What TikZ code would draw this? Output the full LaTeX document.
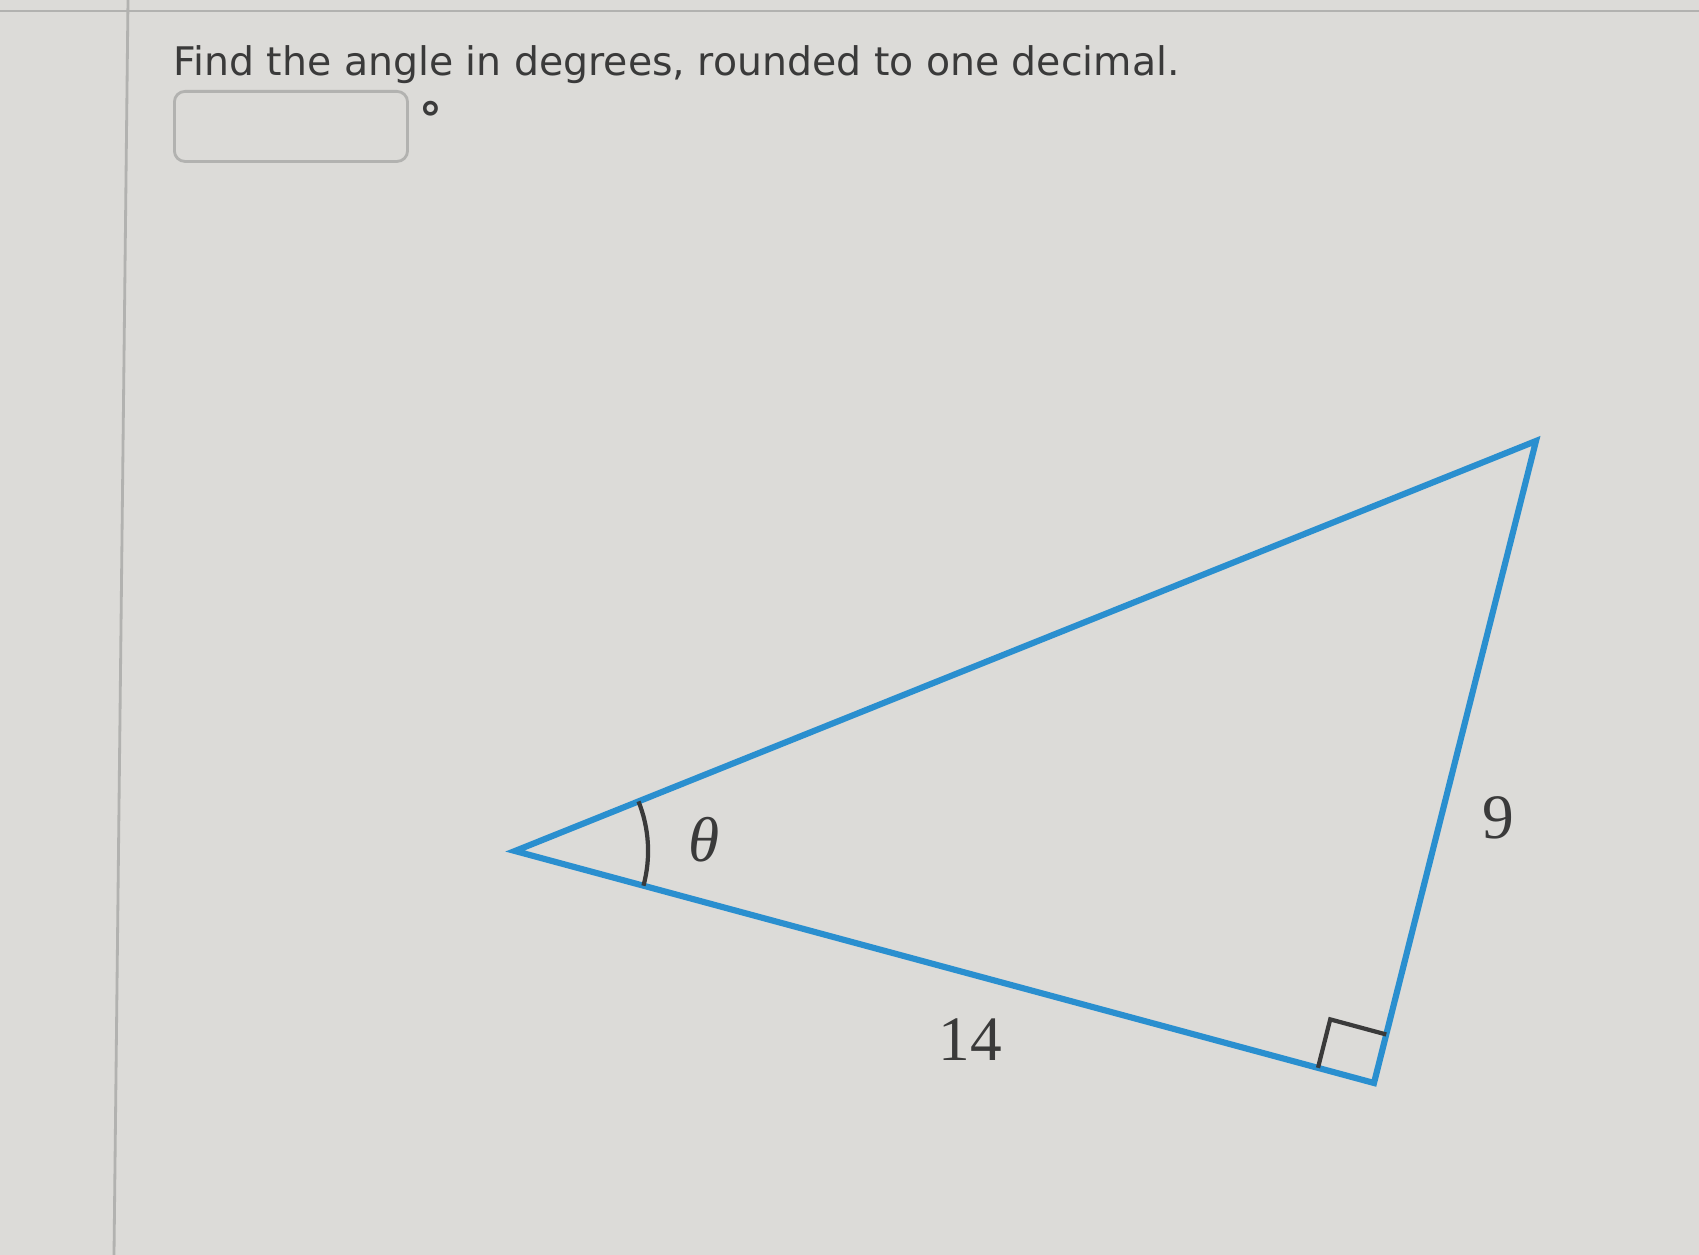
\documentclass[tikz,border=0pt]{standalone}
\usepackage{fontspec}
\setmainfont{Liberation Serif}
\newfontfamily\qfont{DejaVu Sans}
\usetikzlibrary{calc}
\usetikzlibrary{angles}
\definecolor{paper}{HTML}{DCDBD8}
\definecolor{rulegrey}{HTML}{B2B2B0}
\definecolor{ink}{HTML}{3A3A3A}
\definecolor{sideblue}{HTML}{2A8FCF}

\begin{document}
\begin{tikzpicture}[x=0.01cm,y=-0.01cm,
    side/.style={draw=sideblue, line width=1.75pt, line join=miter},
    tick/.style={draw=ink, line width=1.2pt},
    lbl/.style={text=ink, font=\fontsize{18}{20}\selectfont, inner sep=0pt}]
    \fill[paper] (0,0) rectangle (1699,1255);
    \useasboundingbox (0,0) rectangle (1699,1255);

    % page rules of the screen
    \coordinate (topl) at (0,11);
    \coordinate (topr) at (1699,11);
    \coordinate (divt) at (128,0);
    \coordinate (divb) at (114,1255);
    \draw[rulegrey, line width=0.6pt] (topl) -- (topr);
    \draw[rulegrey, line width=0.8pt] (divt) -- (divb);

    % question and answer box
    \node[anchor=base west, text=ink, inner sep=0pt,
      font=\qfont\fontsize{11.2}{13}\selectfont] (question) at (173,76)
      {Find the angle in degrees, rounded to one decimal.};
    \node[draw=rulegrey, line width=0.8pt, rounded corners=3pt, anchor=north west,
      minimum width=2.33cm, minimum height=0.7cm] (answer) at (173,90) {};
    \node[text=ink, inner sep=0pt, font=\qfont\bfseries\fontsize{13}{15}\selectfont]
      (deg) at (431,118) {°};

    % triangle
    \coordinate (A) at (515,851);
    \coordinate (B) at (1536,441);
    \coordinate (C) at (1374,1083);
    \draw[side] (A) -- (B) -- (C) -- cycle;
    \pic[tick, angle radius=1.33cm] {angle = C--A--B};
    \coordinate (ca) at ($(C)!0.58cm!(A)$);
    \coordinate (cb) at ($(C)!0.5cm!(B)$);
    \coordinate (sq) at ($(ca)+(cb)-(C)$);
    \draw[tick] (ca) -- (sq) -- (cb);

    \node[lbl] (theta) at (704,840) {\itshape θ};
    \node[lbl] (nine) at (1498,818) {9};
    \node[lbl] (fourteen) at (970,1040) {14};
\end{tikzpicture}
\end{document}
